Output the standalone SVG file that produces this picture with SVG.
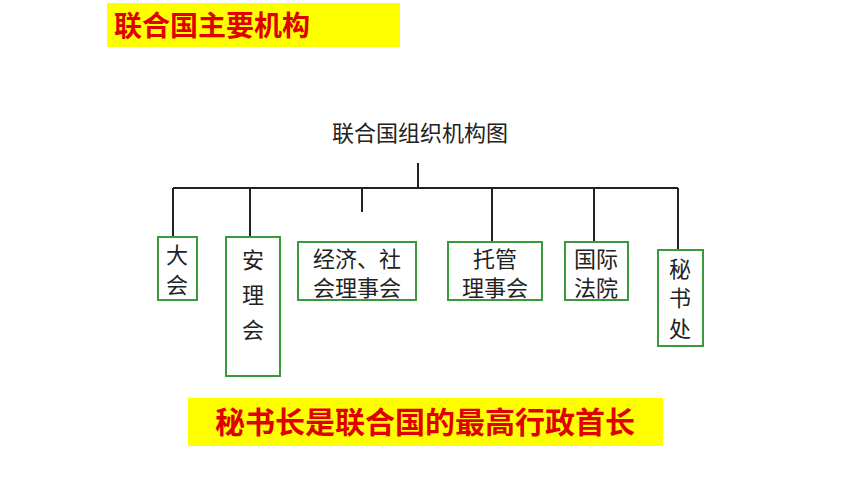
<svg xmlns="http://www.w3.org/2000/svg" width="860" height="484" viewBox="0 0 860 484">
<style>
.box{fill:#fff;stroke:#3a9a3a;stroke-width:2}
.t{font-family:"Noto Sans CJK SC",sans-serif;font-size:22px;fill:#222;text-anchor:middle}
.ln{stroke:#222;stroke-width:2;fill:none}
.hl{font-family:"Noto Sans CJK SC",sans-serif;font-weight:bold;fill:#e00000}
</style>
<rect width="860" height="484" fill="#fff"/>
<g id="header"><rect x="107" y="3" width="293" height="44" fill="#ffff00"/><text class="hl" x="114" y="36" font-size="28">联合国主要机构</text></g>
<g id="title"><text class="t" x="420" y="141" font-size="24">联合国组织机构图</text></g>
<g id="connectors" class="ln">
<path d="M418 163V188M173 188H678M173 188V237M250 188V237M362 188V212M492 188V242M594 188V242M678 188V250"/>
</g>
<g id="n1"><rect class="box" x="158" y="237" width="39" height="63"/><text class="t" x="177" y="263">大</text><text class="t" x="177" y="293">会</text></g>
<g id="n2"><rect class="box" x="226" y="237" width="54" height="139"/><text class="t" x="253" y="268">安</text><text class="t" x="253" y="303">理</text><text class="t" x="253" y="338">会</text></g>
<g id="n3"><rect class="box" x="298" y="242" width="118" height="58"/><text class="t" x="357" y="267">经济、社</text><text class="t" x="357" y="296">会理事会</text></g>
<g id="n4"><rect class="box" x="448" y="242" width="94" height="58"/><text class="t" x="495" y="267">托管</text><text class="t" x="495" y="296">理事会</text></g>
<g id="n5"><rect class="box" x="565" y="242" width="63" height="58"/><text class="t" x="596" y="267">国际</text><text class="t" x="596" y="296">法院</text></g>
<g id="n6"><rect class="box" x="658" y="250" width="45" height="96"/><text class="t" x="680" y="277">秘</text><text class="t" x="680" y="306">书</text><text class="t" x="680" y="337">处</text></g>
<g id="footer"><rect x="188" y="398" width="475" height="48" fill="#ffff00"/><text class="hl" x="425" y="433" font-size="30" text-anchor="middle">秘书长是联合国的最高行政首长</text></g>
</svg>
